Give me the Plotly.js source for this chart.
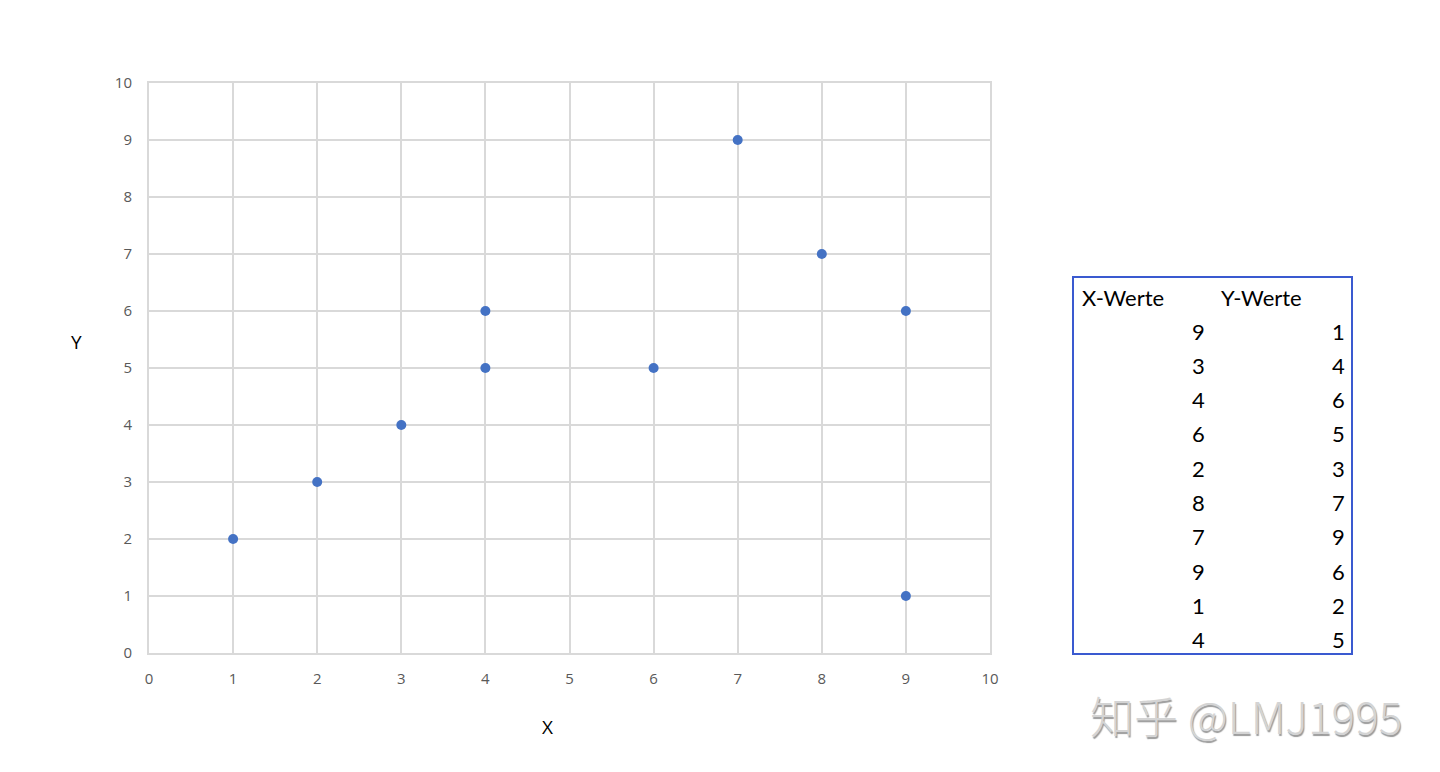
<!DOCTYPE html>
<html><head><meta charset="utf-8">
<script src="https://cdn.plot.ly/plotly-3.0.1.min.js"></script>
<style>html,body{margin:0;padding:0;background:#fff}</style>
</head><body>
<div id="chart" style="width:1440px;height:772px"></div>
<script>
const xValues = [9, 3, 4, 6, 2, 8, 7, 9, 1, 4];
const yValues = [1, 4, 6, 5, 3, 7, 9, 6, 2, 5];
const tableHeaders = ["X-Werte", "Y-Werte"];
const tickVals = [0,1,2,3,4,5,6,7,8,9,10];
const watermark = "知乎 @LMJ1995";

const W = 1440, H = 772;
const L = 149, R = 990, T = 83, B = 653;
const px = v => (v - L) / (R - L), py = v => (B - v) / (B - T);

const annotations = [];
const tf = {family: "Lato, 'Open Sans', sans-serif", size: 22, color: "#000"};
annotations.push({xref:"paper", yref:"paper", x:px(1080), y:py(297), xanchor:"left", yanchor:"middle", text:tableHeaders[0], showarrow:false, font:tf});
annotations.push({xref:"paper", yref:"paper", x:px(1219), y:py(297), xanchor:"left", yanchor:"middle", text:tableHeaders[1], showarrow:false, font:tf});
xValues.forEach((v, i) => {
  const yy = 331 + i * 34.3;
  annotations.push({xref:"paper", yref:"paper", x:px(1207), y:py(yy), xanchor:"right", yanchor:"middle", text:String(v), showarrow:false, font:tf});
  annotations.push({xref:"paper", yref:"paper", x:px(1347), y:py(yy), xanchor:"right", yanchor:"middle", text:String(yValues[i]), showarrow:false, font:tf});
});
annotations.push({xref:"paper", yref:"paper", x:px(1088), y:py(715), xanchor:"left", yanchor:"middle", text:watermark, showarrow:false,
  font:{family:"'Noto Sans CJK SC', sans-serif", size:44, weight:300, color:"#d4d4d4", shadow:"1px 2px 1px #9a9a9a"}});
annotations.push({xref:"paper", yref:"paper", x:px(76), y:py(342), xanchor:"center", yanchor:"middle", text:"Y", showarrow:false,
  font:{family:"'Open Sans', sans-serif", size:19, color:"#000"}});
annotations.push({xref:"paper", yref:"paper", x:px(547), y:py(727), xanchor:"center", yanchor:"middle", text:"X", showarrow:false,
  font:{family:"'Open Sans', sans-serif", size:19, color:"#000"}});

const trace = {
  x: xValues, y: yValues, type: "scatter", mode: "markers",
  marker: {color: "#4472C4", size: 10},
  hoverinfo: "x+y"
};

const axisCommon = {
  range: [0, 10], tickvals: tickVals, showgrid: true, gridcolor: "#d9d9d9", gridwidth: 2,
  zeroline: true, zerolinecolor: "#bfbfbf", zerolinewidth: 2,
  showline: true, linecolor: "#d9d9d9", linewidth: 2, mirror: true,
  tickfont: {family: "'Open Sans', sans-serif", size: 15, color: "#595959"},
  fixedrange: true
};

const layout = {
  width: W, height: H, autosize: false,
  margin: {l: L, r: W - R, t: T, b: H - B},
  paper_bgcolor: "#fff", plot_bgcolor: "#fff",
  showlegend: false,
  xaxis: Object.assign({}, axisCommon, {ticklabelstandoff: 11, title: {text: ""}}),
  yaxis: Object.assign({}, axisCommon, {ticklabelstandoff: 12, title: {text: ""}}),
  shapes: [{type:"rect", xref:"paper", yref:"paper", x0:px(1073), x1:px(1352), y0:py(654), y1:py(277),
    line:{color:"#3a5ad0", width:2}, fillcolor:"rgba(0,0,0,0)"}],
  annotations: annotations
};

Plotly.newPlot("chart", [trace], layout, {displayModeBar: false});
</script>
</body></html>
